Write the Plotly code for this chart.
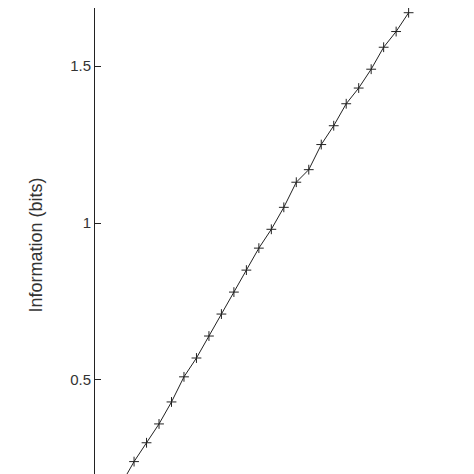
import plotly.graph_objects as go

step = list(range(-1, 23))
info = [0.17, 0.24, 0.30, 0.36, 0.43, 0.51, 0.57, 0.64, 0.71, 0.78, 0.85, 0.92, 0.98,
        1.05, 1.13, 1.17, 1.25, 1.31, 1.38, 1.43, 1.49, 1.56, 1.61, 1.67]
yticks = [0.5, 1, 1.5]
ytext = ["0.5", "1", "1.5"]

fig = go.Figure(go.Scatter(x=step, y=info, mode="lines+markers",
                           line=dict(color="#222", width=1),
                           marker=dict(symbol="cross-thin", size=7, line=dict(color="#222", width=1))))
fig.update_layout(width=474, height=474, margin=dict(l=87, r=6, t=0, b=0, autoexpand=False),
                  plot_bgcolor="white", paper_bgcolor="white", showlegend=False,
                  font=dict(family="Liberation Sans, Arial", size=15, color="#333"))
fig.update_xaxes(range=[-3.13, 27.4], showticklabels=False, ticks="", showgrid=False,
                 showline=True, linecolor="#222", mirror=True, zeroline=False, automargin=False)
fig.update_yaxes(range=[0.175, 1.685], tickvals=yticks, ticktext=ytext, ticks="inside",
                 ticklen=6, tickcolor="#222", showgrid=False, showline=True, automargin=False,
                 linecolor="#222", mirror="allticks", zeroline=False,
                 title=dict(text="Information (bits)", standoff=22))
fig.write_html("out.html")
